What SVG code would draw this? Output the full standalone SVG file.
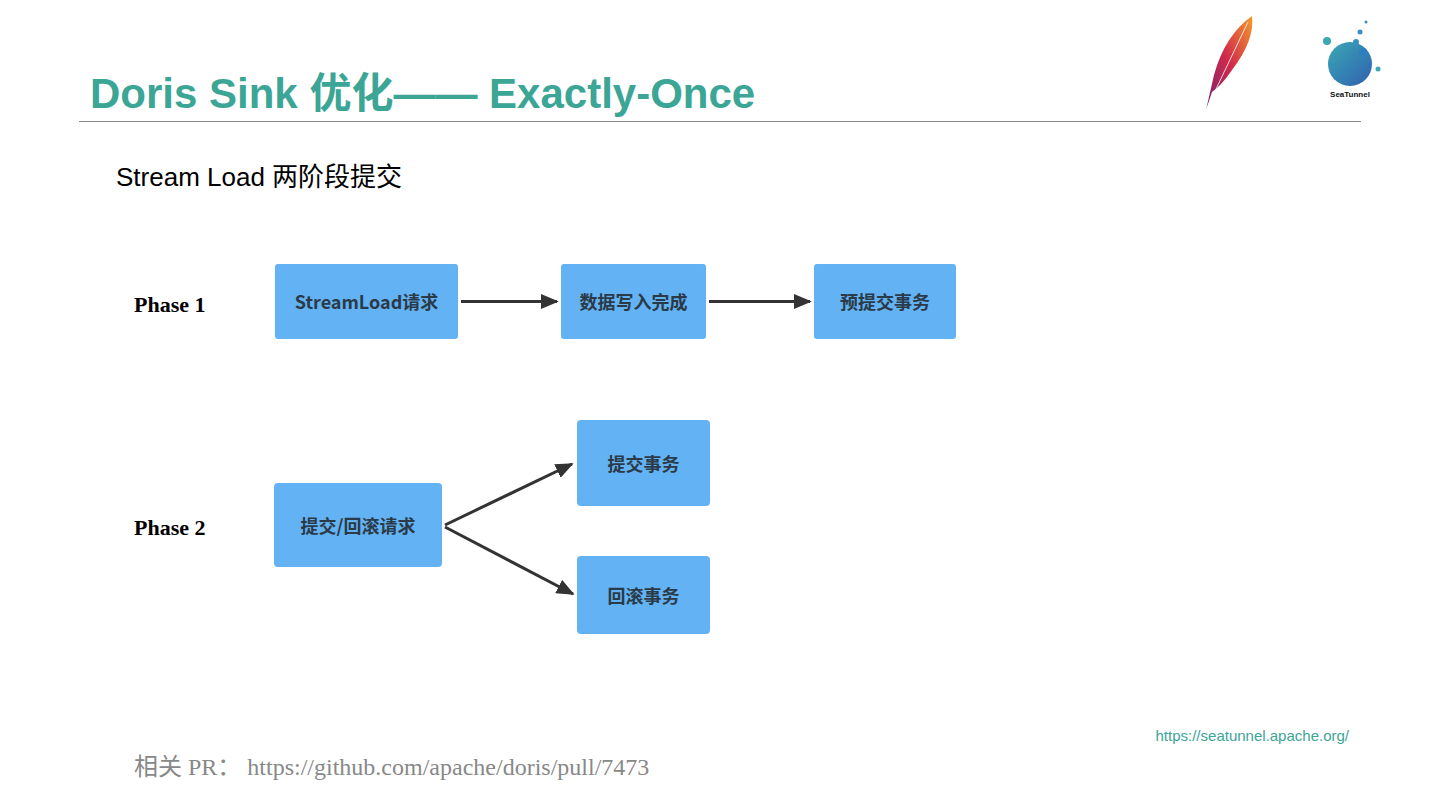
<svg xmlns="http://www.w3.org/2000/svg" width="1440" height="810" viewBox="0 0 1440 810">
<style>
.box{fill:#63b3f4;}
.bt{font-family:"Noto Sans CJK SC",sans-serif;font-weight:bold;font-size:18px;fill:#2b3a48;text-anchor:middle;dominant-baseline:central;}
.ph{font-family:"Liberation Serif",serif;font-weight:bold;font-size:22px;fill:#000;}
.cn{stroke:#333;stroke-width:3;fill:none;marker-end:url(#ah);}
</style>
<defs>
<marker id="ah" viewBox="0 0 10 10" refX="9" refY="5" markerWidth="6" markerHeight="5" orient="auto" markerUnits="strokeWidth" preserveAspectRatio="none"><path d="M0,0 L10,5 L0,10 z" fill="#333"/></marker>
<linearGradient id="fg" x1="0" y1="1" x2="1" y2="0"><stop offset="0" stop-color="#7a1e6c"/><stop offset="0.5" stop-color="#d02a4c"/><stop offset="1" stop-color="#f59a2a"/></linearGradient>
<linearGradient id="sg" x1="0" y1="0" x2="1" y2="1"><stop offset="0" stop-color="#3aa9b5"/><stop offset="1" stop-color="#2f5fb0"/></linearGradient>
</defs>
<rect width="1440" height="810" fill="#fff"/>
<text x="90" y="108" font-family="Liberation Sans,'Noto Sans CJK SC',sans-serif" font-weight="bold" font-size="42" fill="#3ba596">Doris Sink 优化—— Exactly-Once</text>
<line x1="79" y1="121.5" x2="1361" y2="121.5" stroke="#888" stroke-width="1"/>
<g id="logos">
<path d="M1206,110 L1214,75 Q1225,35 1252,16 Q1255,40 1232,70 Q1222,85 1212,92 Z" fill="url(#fg)"/>
<line x1="1206" y1="110" x2="1248" y2="22" stroke="#fff" stroke-width="0.8"/>
<circle cx="1350" cy="64" r="22" fill="url(#sg)"/>
<circle cx="1327" cy="41" r="4" fill="#3aa9b5"/><circle cx="1363" cy="52" r="4" fill="#2f7fc0"/><circle cx="1356" cy="42" r="3" fill="#3a8fc0"/><circle cx="1360" cy="32" r="2.5" fill="#3a8fc0"/><circle cx="1366" cy="22" r="1.5" fill="#3a8fc0"/><circle cx="1378" cy="69" r="2.5" fill="#3aa9b5"/>
<text x="1350" y="97" font-family="Liberation Sans,sans-serif" font-weight="bold" font-size="8" text-anchor="middle" fill="#111">SeaTunnel</text>
</g>
<text x="116" y="186" font-family="Liberation Sans,'Noto Sans CJK SC',sans-serif" font-size="26" fill="#000">Stream Load  两阶段提交</text>
<text class="ph" x="134" y="312">Phase 1</text>
<text class="ph" x="134" y="535">Phase 2</text>
<g id="n1"><rect class="box" x="275" y="264" width="183" height="75" rx="3"/><text class="bt" x="366.5" y="301">StreamLoad请求</text></g>
<g id="n2"><rect class="box" x="561" y="264" width="145" height="75" rx="3"/><text class="bt" x="633.5" y="301">数据写入完成</text></g>
<g id="n3"><rect class="box" x="814" y="264" width="142" height="75" rx="3"/><text class="bt" x="885" y="301">预提交事务</text></g>
<g id="n4"><rect class="box" x="274" y="483" width="168" height="84" rx="4"/><text class="bt" x="358" y="525">提交/回滚请求</text></g>
<g id="n5"><rect class="box" x="577" y="420" width="133" height="86" rx="4"/><text class="bt" x="643.5" y="463" font-size="20">提交事务</text></g>
<g id="n6"><rect class="box" x="577" y="556" width="133" height="78" rx="4"/><text class="bt" x="643.5" y="595" font-size="20">回滚事务</text></g>
<g id="connectors">
<line class="cn" x1="461" y1="301.5" x2="557" y2="301.5"/>
<line class="cn" x1="709" y1="301.5" x2="810" y2="301.5"/>
<line class="cn" x1="445" y1="525" x2="572" y2="464"/>
<line class="cn" x1="445" y1="527" x2="573" y2="594"/>
</g>
<text x="1349" y="741" font-family="Liberation Sans,sans-serif" font-size="15" fill="#3ba596" text-anchor="end">https://seatunnel.apache.org/</text>
<text x="134" y="775" font-family="Liberation Serif,'Noto Sans CJK SC',serif" font-size="24" fill="#888">相关 PR：  https://github.com/apache/doris/pull/7473</text>
</svg>
